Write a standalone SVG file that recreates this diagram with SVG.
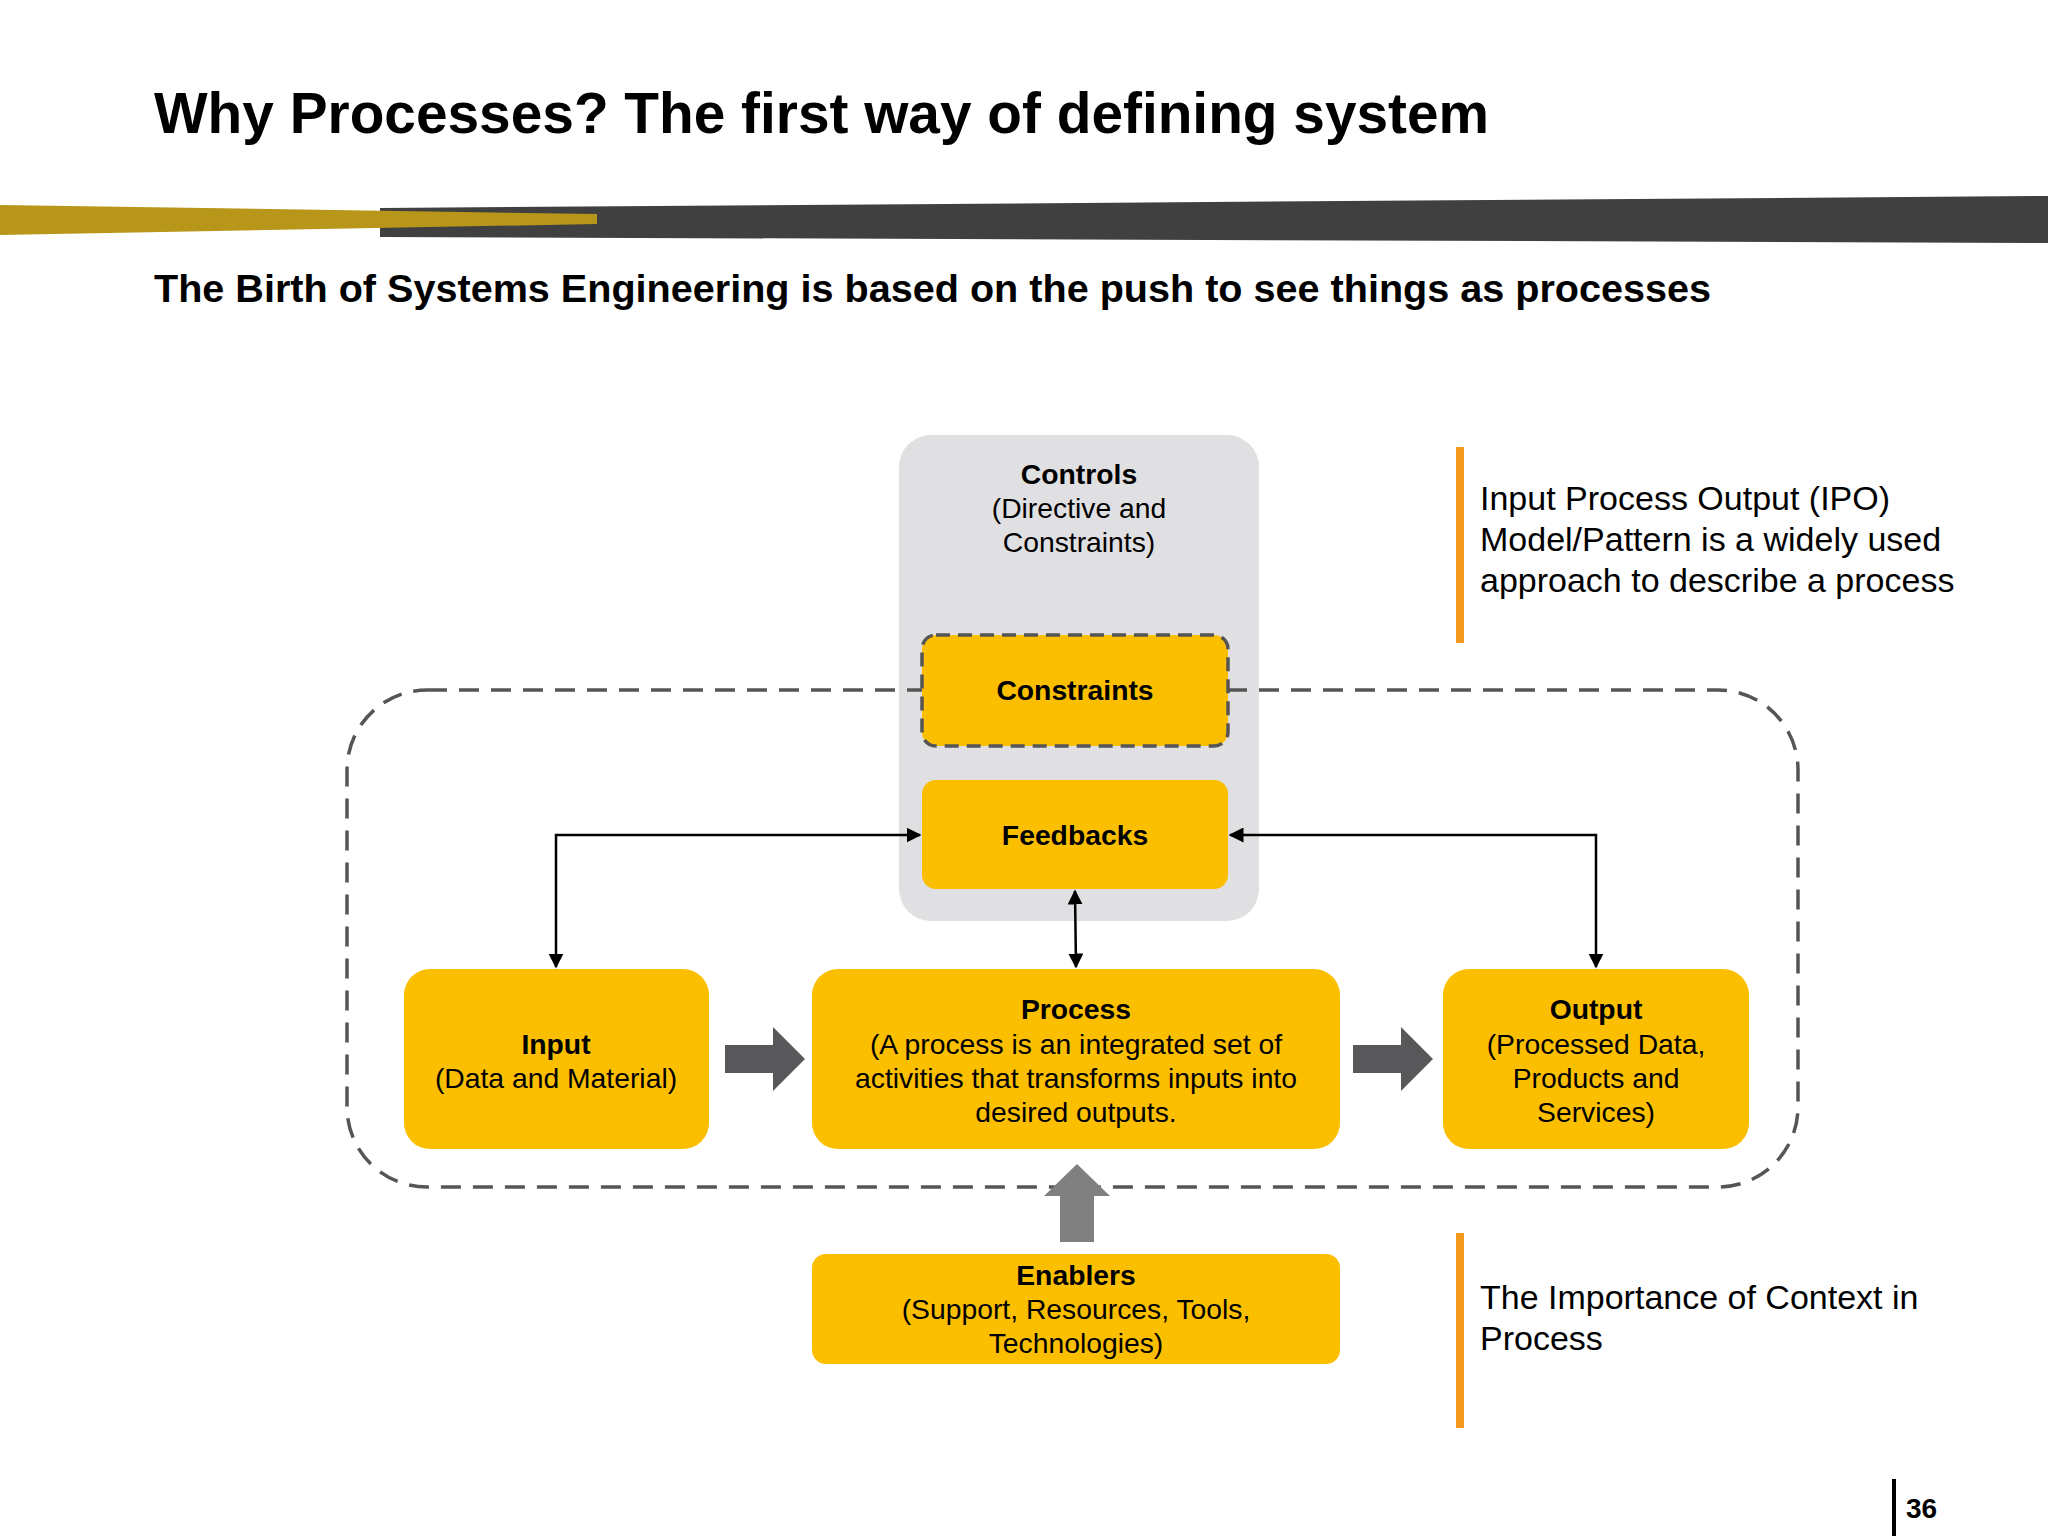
<svg xmlns="http://www.w3.org/2000/svg" width="2048" height="1536" viewBox="0 0 2048 1536">
<defs>
<style>
text{font-family:"Liberation Sans",Arial,sans-serif;fill:#000}
.b{font-weight:bold}
.n{font-size:28.3px;text-anchor:middle}
.box{fill:#FCBF00}
.side{font-size:34px}
.fb{stroke:#000;stroke-width:2.5;fill:none}
</style>
<marker id="ah" viewBox="0 0 10 10" refX="9" refY="5" markerWidth="6" markerHeight="6" orient="auto-start-reverse"><path d="M0,0L10,5L0,10z" fill="#000"/></marker>
</defs>
<rect width="2048" height="1536" fill="#fff"/>
<text x="154" y="133" class="b" style="font-size:56.8px">Why Processes? The first way of defining system</text>
<polygon points="380,208 2048,196 2048,243 380,237" fill="#404040"/>
<polygon points="0,205 597,214 597,224 0,235" fill="#B8961A"/>
<text x="154" y="302" class="b" style="font-size:39.6px">The Birth of Systems Engineering is based on the push to see things as processes</text>

<g id="controls"><rect x="899" y="435" width="360" height="486" rx="32" fill="#E0DFE2"/>
<text class="n b" x="1079" y="484">Controls</text><text class="n" x="1079" y="518">(Directive and</text><text class="n" x="1079" y="552">Constraints)</text></g>
<g id="scope"><rect x="347" y="690" width="1451" height="497" rx="80" fill="none" stroke="#555" stroke-width="3.5" stroke-dasharray="20,12"/></g>
<g id="constraints"><rect class="box" x="922" y="635" width="306" height="111" rx="14" stroke="#555" stroke-width="3.5" stroke-dasharray="14,8"/><text class="n b" x="1075" y="700">Constraints</text></g>
<g id="feedbacks"><rect class="box" x="922" y="780" width="306" height="109" rx="14"/><text class="n b" x="1075" y="845">Feedbacks</text></g>
<g id="input"><rect class="box" x="404" y="969" width="305" height="180" rx="26"/><text class="n b" x="556" y="1054">Input</text><text class="n" x="556" y="1088">(Data and Material)</text></g>
<g id="process"><rect class="box" x="812" y="969" width="528" height="180" rx="26"/><text class="n b" x="1076" y="1019">Process</text><text class="n" x="1076" y="1054">(A process is an integrated set of</text><text class="n" x="1076" y="1088">activities that transforms inputs into</text><text class="n" x="1076" y="1122">desired outputs.</text></g>
<g id="output"><rect class="box" x="1443" y="969" width="306" height="180" rx="26"/><text class="n b" x="1596" y="1019">Output</text><text class="n" x="1596" y="1054">(Processed Data,</text><text class="n" x="1596" y="1088">Products and</text><text class="n" x="1596" y="1122">Services)</text></g>
<g id="enablers"><rect class="box" x="812" y="1254" width="528" height="110" rx="14"/><text class="n b" x="1076" y="1285">Enablers</text><text class="n" x="1076" y="1319">(Support, Resources, Tools,</text><text class="n" x="1076" y="1353">Technologies)</text></g>

<g id="connectors">
<polygon points="725,1045 773,1045 773,1027 805,1059 773,1091 773,1073 725,1073" fill="#58585A"/>
<polygon points="1353,1045 1401,1045 1401,1027 1433,1059 1401,1091 1401,1073 1353,1073" fill="#58585A"/>
<polygon points="1060,1242 1060,1196 1044,1196 1077,1164 1110,1196 1094,1196 1094,1242" fill="#808080"/>
<polyline class="fb" points="556,967 556,835 920,835" marker-start="url(#ah)" marker-end="url(#ah)"/>
<polyline class="fb" points="1596,967 1596,835 1230,835" marker-start="url(#ah)" marker-end="url(#ah)"/>
<line class="fb" x1="1075" y1="891" x2="1076" y2="967" marker-start="url(#ah)" marker-end="url(#ah)"/>
</g>

<rect x="1456" y="447" width="8" height="196" fill="#F39A1E"/>
<text class="side" x="1480" y="510">Input Process Output (IPO)</text>
<text class="side" x="1480" y="551">Model/Pattern is a widely used</text>
<text class="side" x="1480" y="592">approach to describe a process</text>
<rect x="1456" y="1233" width="8" height="195" fill="#F39A1E"/>
<text class="side" x="1480" y="1309">The Importance of Context in</text>
<text class="side" x="1480" y="1350">Process</text>
<rect x="1892" y="1479" width="4" height="57" fill="#000"/>
<text x="1906" y="1518" class="b" style="font-size:28px">36</text>
</svg>
